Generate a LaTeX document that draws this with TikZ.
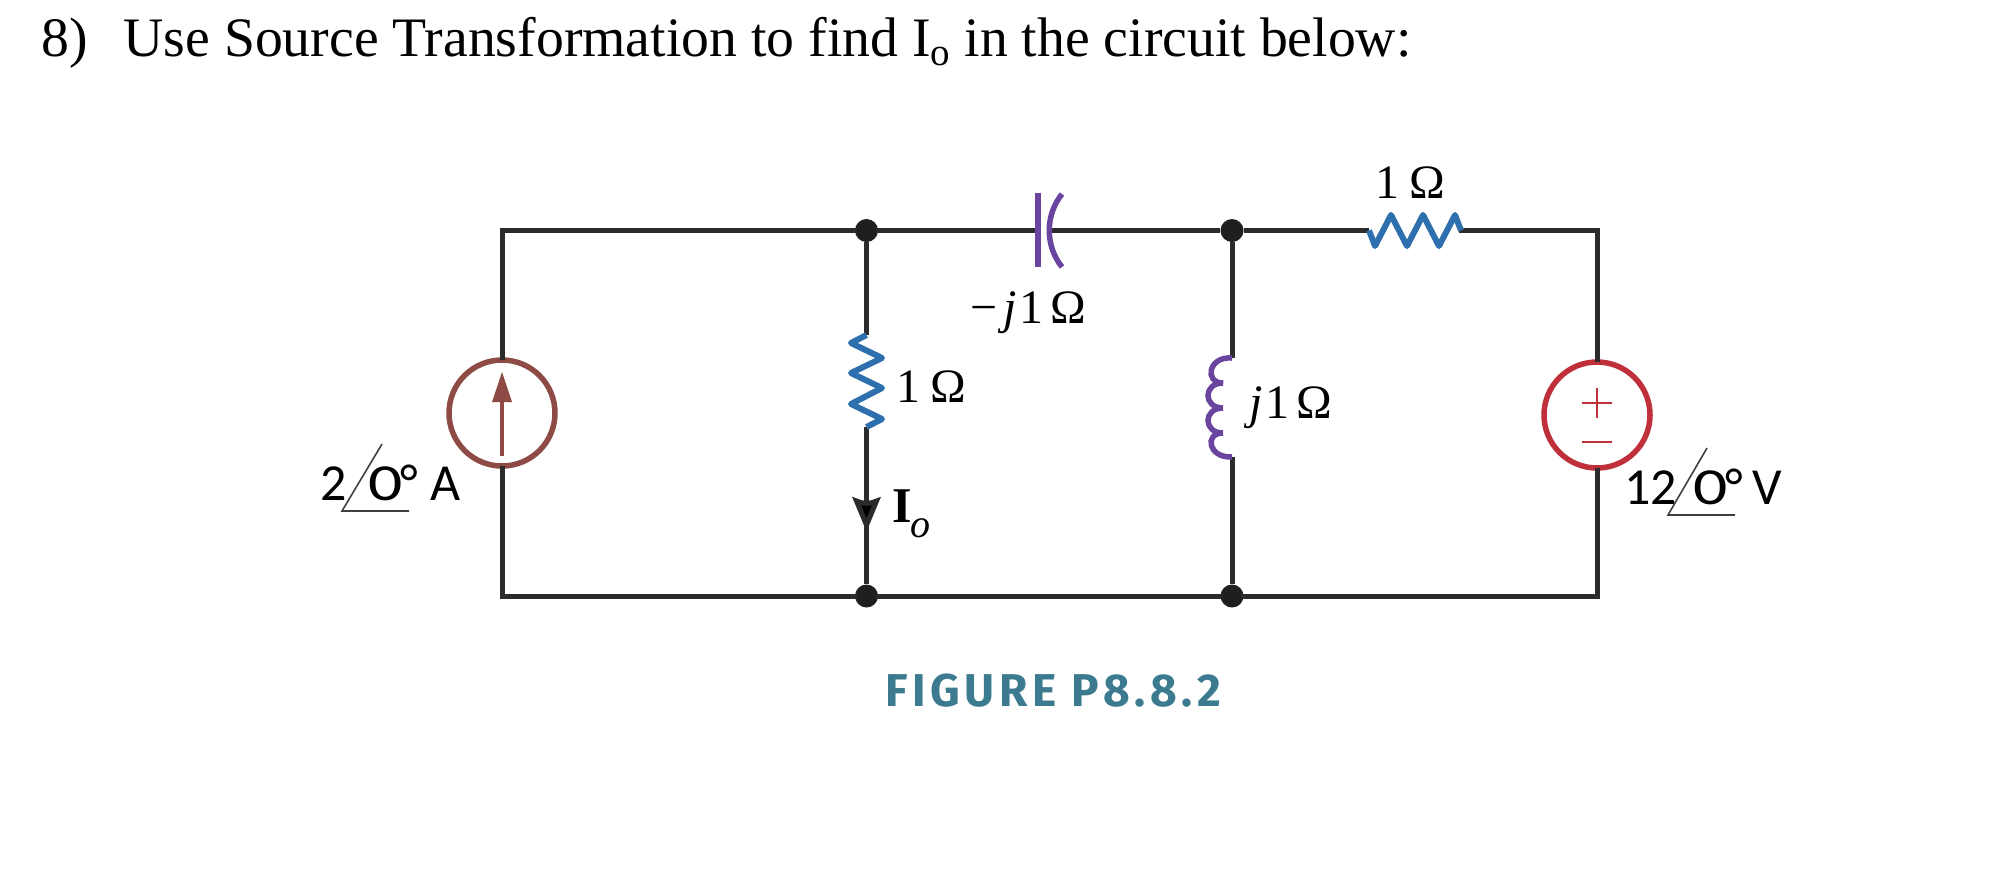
\documentclass[tikz,border=0pt]{standalone}
\usepackage{fontspec}
\setmainfont{Liberation Serif}
\newfontfamily\lab{Carlito}
\newfontfamily\figf[LetterSpace=10]{Fira Sans}
\definecolor{wire}{HTML}{2B2B2B}
\definecolor{srcA}{HTML}{8E4A44}
\definecolor{srcV}{HTML}{C0303A}
\definecolor{blueR}{HTML}{2E6FAE}
\definecolor{purp}{HTML}{6A45A0}
\definecolor{teal}{HTML}{3B7A8F}
\newcommand{\wideO}{\scalebox{1.3}[1]{0}}
\tikzset{
  x=1pt,y=-1pt,
  wire/.style={draw=wire,line width=5pt},
  junction/.style={circle,fill=black!88,inner sep=0pt,minimum size=23pt},
  source/.style={circle,draw=#1,line width=5.5pt,fill=white,minimum size=106pt,inner sep=0pt},
  res/.style={draw=blueR,line width=6pt,line join=round},
  comp/.style={draw=purp,line width=5.5pt},
  vallab/.style={inner sep=0pt,anchor=base west,font=\fontsize{48}{48}\selectfont},
  srclab/.style={inner sep=0pt,anchor=base west,font=\lab\fontsize{52}{52}\selectfont},
  angle/.style={draw=black!75,line width=1.6pt},
}
\begin{document}
\begin{tikzpicture}
\useasboundingbox (0,0) rectangle (2012,884);
\coordinate (TL) at (502,230.5);
\coordinate (BL) at (502,596);
\coordinate (TR) at (1597,230.5);
\coordinate (BR) at (1597,596);
\node[junction] (J1) at (866.5,230.5) {};
\node[junction] (J2) at (1232,230.5) {};
\node[junction] (J3) at (866.5,596) {};
\node[junction] (J4) at (1232,596) {};
\node[source=srcA] (SA) at (502,413) {};
\node[source=srcV] (SV) at (1597,415) {};
\coordinate (CapL) at (1038,230.5);
\coordinate (CapR) at (1050,230.5);
\coordinate (R2a) at (1369,230.5);
\coordinate (R2b) at (1461,230.5);
\coordinate (R1a) at (866.5,335);
\coordinate (R1b) at (866.5,427);
\coordinate (La) at (1232,358);
\coordinate (Lb) at (1232,457);
% wires
\draw[wire,line cap=rect] (SA) -- (TL) -- (J1) -- (CapL);
\draw[wire] (CapR) -- (J2) -- (R2a);
\draw[wire,line cap=rect] (R2b) -- (TR) -- (SV);
\draw[wire,line cap=rect] (SA) -- (BL) -- (J3) -- (J4) -- (BR) -- (SV);
\draw[wire] (J1) -- (R1a);
\draw[wire] (R1b) -- (J3);
\draw[wire] (J2) -- (La);
\draw[wire] (Lb) -- (J4);
% capacitor
\draw[comp,line width=6.5pt] (1038,193) -- (1038,267);
\draw[comp] (1062,194) .. controls (1045,215) and (1045,246) .. (1062,267);
% series resistor
\draw[res] (R2a) -- (1375,246) -- (1391,215) -- (1407,246) -- (1423,215) -- (1439,246) -- (1455,215) -- (R2b);
% shunt resistor
\draw[res] (R1a) -- (851,343) -- (882,358) -- (851,373) -- (882,388) -- (851,404) -- (882,419) -- (R1b);
% inductor
\draw[comp] (La) .. controls (1208,356) and (1204,383) .. (1223,383)
  .. controls (1203,383) and (1203,408) .. (1223,408)
  .. controls (1203,408) and (1203,433) .. (1223,433)
  .. controls (1204,433) and (1208,458) .. (Lb);
% current arrow
\fill[wire] (856.5,501) .. controls (862,504) and (871,504) .. (876.5,501) -- (866.5,525) -- cycle;
% source A arrow
\draw[srcA,line width=4pt] (502,456) -- (502,395);
\fill[srcA] (502,372) -- (512,402) -- (492,402) -- cycle;
% source V
\draw[srcV,line width=2.4pt] (1582,403) -- (1612,403) (1597,388) -- (1597,418);
\draw[srcV,line width=2.4pt] (1582,442) -- (1612,442);
% text
\node[inner sep=0pt,anchor=base west,font=\fontsize{55.7}{56}\selectfont] (title) at (41,56)
  {8)\kern36pt Use Source Transformation to find I\textsubscript{o} in the circuit below:};
\node[vallab] (l1) at (1375,198) {1\kern10pt Ω};
\node[vallab] (l2) at (970,323) {−\kern6pt\textit{j}\kern3pt 1\kern7pt Ω};
\node[vallab] (l3) at (896,402) {1\kern10pt Ω};
\node[vallab] (l4) at (1249,418) {\textit{j}\kern3pt 1\kern7pt Ω};
\node[inner sep=0pt,anchor=base west,font=\bfseries\fontsize{50}{50}\selectfont] (l5) at (892,522) {I};
\node[inner sep=0pt,anchor=base west,font=\itshape\fontsize{40}{40}\selectfont] (l6) at (910,537) {o};
\node[srclab] (a1) at (320,500) {2};
\node[srclab] (a2) at (368,500) {\wideO};
\node[srclab] (a2b) at (400,500) {°};
\node[srclab] (a3) at (430,500) {A};
\draw[angle] (382,444) -- (342,511) -- (409,511);
\node[srclab] (v1) at (1624,504) {12};
\node[srclab] (v2) at (1693,504) {\wideO};
\node[srclab] (v2b) at (1725,504) {°};
\node[srclab] (v3) at (1752,504) {V};
\draw[angle] (1707,448) -- (1668,515) -- (1735,515);
\node[inner sep=0pt,anchor=base west,font=\figf\bfseries\fontsize{46}{46}\selectfont,text=teal] (fig) at (885,706) {FIGURE P8.8.2};
\end{tikzpicture}
\end{document}
